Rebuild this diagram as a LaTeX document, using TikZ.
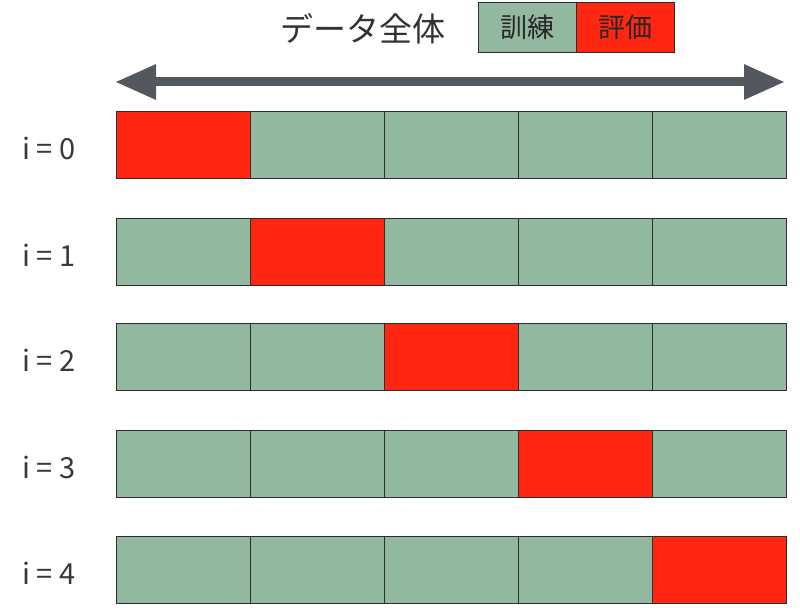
\documentclass[tikz,border=0pt]{standalone}
\usepackage{fontspec}
\setmainfont{Noto Sans CJK JP}
\usetikzlibrary{arrows.meta}
\definecolor{trgreen}{RGB}{147,184,160}
\definecolor{evred}{RGB}{255,38,18}
\definecolor{arrgray}{RGB}{82,88,94}
\definecolor{edge}{RGB}{45,45,45}
\tikzset{
  cell/.style={draw=edge, line width=1.3pt, inner sep=0pt, minimum width=134pt, minimum height=67pt, anchor=north west},
  legendbox/.style={draw=edge, line width=1.3pt, inner sep=0pt, minimum width=98pt, minimum height=50pt, anchor=north west, font=\fontsize{27}{30}\selectfont, text=black!85},
  rowlabel/.style={font=\fontsize{29}{32}\selectfont, text=black!78, inner sep=0pt},
}
\begin{document}
\begin{tikzpicture}[x=1pt,y=-1pt]
\useasboundingbox (0,0) rectangle (800,612);
\node[font=\fontsize{33}{36}\selectfont, text=black!80, inner sep=0pt] (title) at (363,29) {データ全体};
\node[legendbox, fill=trgreen] (lgtrain) at (478,2) {訓練};
\node[legendbox, fill=evred] (lgeval) at (576,2) {評価};
\coordinate (aL) at (115,82);
\coordinate (aR) at (785,82);
\draw[arrgray, line width=9pt, {Triangle[length=41pt,width=33pt]}-{Triangle[length=41pt,width=33pt]}] (aL) -- (aR);
\foreach \r/\top in {0/111,1/218,2/323,3/430,4/536}{
  \foreach \c in {0,...,4}{
    \ifnum\c=\r
      \node[cell, fill=evred] (c\r\c) at ({116+134*\c},\top) {};
    \else
      \node[cell, fill=trgreen] (c\r\c) at ({116+134*\c},\top) {};
    \fi
  }
  \node[rowlabel] (lab\r) at (49,{\top+37}) {i = \r};
}
\end{tikzpicture}
\end{document}
